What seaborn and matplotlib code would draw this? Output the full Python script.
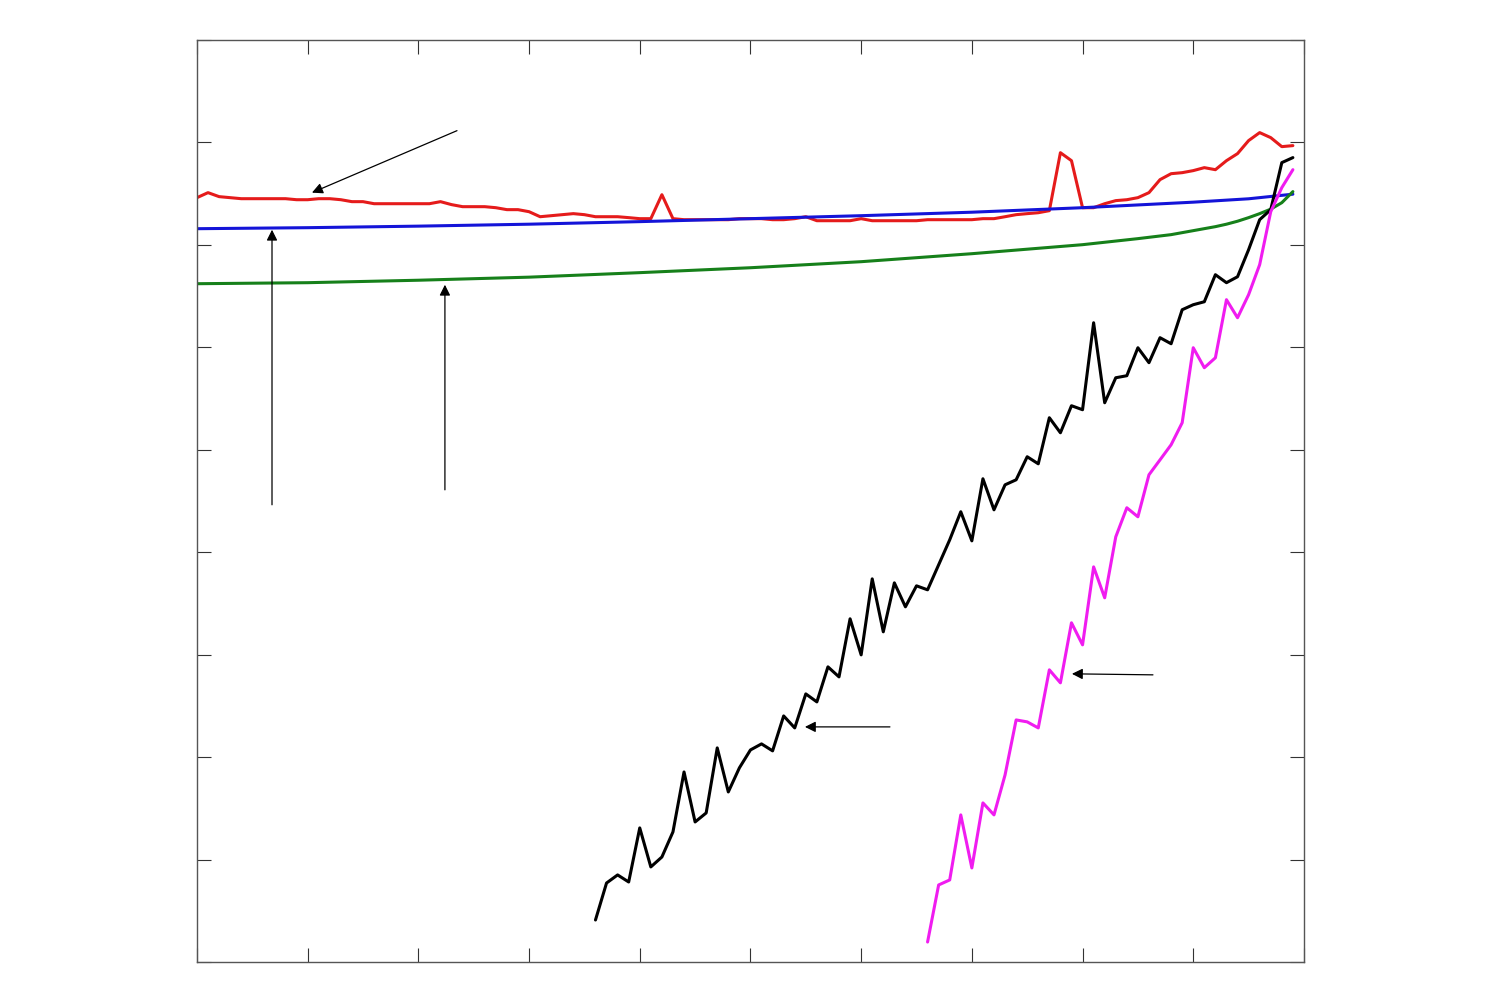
import matplotlib
matplotlib.use("Agg")
import matplotlib.pyplot as plt
import seaborn as sns
import numpy as np

# x positions for each series
x_red = list(range(0, 100))
x_black = list(range(36, 100))
x_magenta = list(range(66, 100))
x_blue = [0, 10, 20, 30, 40, 50, 60, 70, 80, 90, 95, 99]
x_green = [0, 10, 20, 30, 40, 50, 60, 70, 80, 85, 88, 90, 92, 93, 94, 95, 96, 97, 98, 99]

red_vals = [74.61, 75.10, 74.71, 74.61, 74.51, 74.51, 74.51, 74.51, 74.51, 74.41,
            74.41, 74.51, 74.51, 74.41, 74.22, 74.22, 74.02, 74.02, 74.02, 74.02,
            74.02, 74.02, 74.22, 73.93, 73.73, 73.73, 73.73, 73.63, 73.44, 73.44,
            73.24, 72.75, 72.85, 72.95, 73.05, 72.95, 72.75, 72.75, 72.75, 72.66,
            72.56, 72.56, 74.90, 72.56, 72.46, 72.46, 72.46, 72.46, 72.46, 72.56,
            72.56, 72.56, 72.46, 72.46, 72.56, 72.75, 72.36, 72.36, 72.36, 72.36,
            72.56, 72.36, 72.36, 72.36, 72.36, 72.36, 72.46, 72.46, 72.46, 72.46,
            72.46, 72.56, 72.56, 72.75, 72.95, 73.05, 73.14, 73.34, 79.00, 78.22,
            73.63, 73.63, 74.02, 74.32, 74.41, 74.61, 75.10, 76.37, 76.95, 77.05,
            77.25, 77.54, 77.34, 78.22, 78.91, 80.18, 80.96, 80.47, 79.59, 79.69]

blue_vals = [71.58, 71.68, 71.83, 72.02, 72.27, 72.56, 72.85, 73.19, 73.63, 74.17,
             74.50, 74.95]

green_vals = [66.21, 66.31, 66.55, 66.85, 67.29, 67.77, 68.36, 69.14, 70.02, 70.61,
              71.00, 71.39, 71.78, 72.02, 72.31, 72.66, 73.05, 73.49, 74.12, 75.20]

black_vals = [4.10, 7.71, 8.50, 7.81, 13.09, 9.28, 10.25, 12.70, 18.55, 13.67,
              14.55, 20.90, 16.60, 18.95, 20.70, 21.29, 20.61, 24.02, 22.85, 26.17,
              25.39, 28.81, 27.83, 33.50, 29.98, 37.40, 32.23, 37.01, 34.67, 36.72,
              36.33, 38.77, 41.21, 43.95, 41.11, 47.17, 44.14, 46.58, 47.07, 49.32,
              48.63, 53.13, 51.66, 54.30, 53.91, 62.40, 54.59, 57.03, 57.23, 59.96,
              58.50, 60.94, 60.35, 63.67, 64.16, 64.45, 67.09, 66.31, 66.89, 69.53,
              72.46, 73.44, 78.03, 78.52]

magenta_vals = [1.95, 7.52, 8.01, 14.36, 9.18, 15.53, 14.36, 18.26, 23.63, 23.44,
                22.85, 28.52, 27.25, 33.11, 30.96, 38.57, 35.55, 41.50, 44.34, 43.46,
                47.56, 49.02, 50.49, 52.64, 59.96, 58.01, 58.98, 64.65, 62.89, 65.14,
                68.07, 73.24, 75.59, 77.34]

# annotation arrows (tail -> head), text removed in reference
arrows = [((23.49, 81.15), (10.39, 75.10)),
          ((6.78, 44.63), (6.78, 71.48)),
          ((22.40, 46.09), (22.40, 66.11)),
          ((62.60, 22.95), (54.92, 22.95)),
          ((86.36, 28.03), (79.04, 28.13))]

sns.set_style("white")
fig = plt.figure(figsize=(15, 10), dpi=100)
ax = fig.add_axes([0.1313, 0.038, 0.738, 0.922])

lw = 2.2
sns.lineplot(x=x_red, y=red_vals, color="#e51b1b", lw=lw, ax=ax)
sns.lineplot(x=x_blue, y=blue_vals, color="#1414d8", lw=lw, ax=ax)
sns.lineplot(x=x_green, y=green_vals, color="#16801a", lw=lw, ax=ax)
sns.lineplot(x=x_black, y=black_vals, color="black", lw=lw, ax=ax)
sns.lineplot(x=x_magenta, y=magenta_vals, color="#f01cf0", lw=lw, ax=ax)

for tail, head in arrows:
    ax.annotate("", xy=head, xytext=tail,
                arrowprops=dict(arrowstyle="-|>", color="black", lw=0.9,
                                mutation_scale=16, shrinkA=0, shrinkB=0))

ax.set_xlim(0, 100)
ax.set_ylim(0, 90)
ax.set_xticks(np.arange(0, 101, 10))
ax.set_yticks(np.arange(0, 91, 10))
ax.tick_params(direction="in", length=10, width=0.8, color="#333333",
               top=True, right=True, bottom=True, left=True,
               labelbottom=False, labelleft=False)
for s in ax.spines.values():
    s.set_visible(True)
    s.set_color("#555555")
    s.set_linewidth(1.0)

fig.savefig("out.png", dpi=100, facecolor="white")
